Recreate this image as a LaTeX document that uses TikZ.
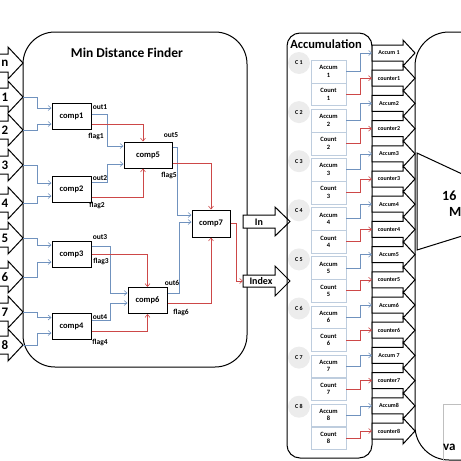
\documentclass[tikz,border=0pt]{standalone}
\usepackage{fontspec}
\setmainfont{Carlito}
\usepackage{tikz}
\usetikzlibrary{arrows.meta}
\definecolor{wireblue}{RGB}{112,146,190}
\definecolor{wirered}{RGB}{205,72,72}
\definecolor{cellline}{RGB}{190,205,222}
\tikzstyle{frame}      = [draw=black, line width=1pt, rounded corners=32pt]
\tikzstyle{comp}       = [rectangle, minimum width=39pt, minimum height=26pt, inner sep=0pt, text centered, draw=black, line width=1pt, fill=white, font=\bfseries\fontsize{8.5}{9}\selectfont]
\tikzstyle{port}       = [inner sep=0pt, font=\bfseries\fontsize{7.5}{8}\selectfont]
\tikzstyle{bigtext}    = [inner sep=0pt, font=\bfseries\fontsize{13}{13}\selectfont]
\tikzstyle{blockarrow} = [draw=black, line width=1pt, fill=white, line join=miter]
\tikzstyle{outwire}    = [draw=wireblue, line width=0.6pt, -{Straight Barb[length=3pt,width=5pt]}]
\tikzstyle{flagwire}   = [draw=wirered, line width=0.6pt, -{Straight Barb[length=3pt,width=5pt]}]
\tikzstyle{cell}       = [rectangle, minimum width=35pt, minimum height=22.5pt, inner sep=0pt, align=center, draw=cellline, fill=white, font=\bfseries\fontsize{6.5}{7.5}\selectfont]
\tikzstyle{badge}      = [circle, minimum size=22pt, inner sep=0pt, fill=gray!15, font=\bfseries\fontsize{6}{6}\selectfont]
\tikzstyle{tag}        = [inner sep=0pt, font=\bfseries\fontsize{6}{6}\selectfont]

\begin{document}
\begin{tikzpicture}[x=1pt, y=-1pt]
    \useasboundingbox (0,0) rectangle (461,461);
    \clip (0,0) rectangle (461,461);

    % min distance finder
    \draw [frame] (23,32) rectangle (247,367);
    \node (mdf) [bigtext, font=\bfseries\fontsize{13.5}{14}\selectfont] at (127,53) {Min Distance Finder};

    \foreach \y/\l/\n in {63/n/0, 97/1/1, 130/2/2, 165/3/3, 203/4/4, 238/5/5, 277/6/6, 312/7/7, 345/8/8} {
      \draw [blockarrow] (-10,\y-9) -- (8,\y-9) -- (8,\y-16) -- (23,\y) -- (8,\y+16) -- (8,\y+9) -- (-10,\y+9) -- cycle;
      \node (lbl\n) [bigtext, anchor=east] at (8.5,\y) {\l};
      \coordinate (t\n) at (23,\y);
    }

    \node (comp1) [comp] at (71.5,116)   {comp1};
    \node (comp2) [comp] at (71.5,189.5) {comp2};
    \node (comp3) [comp] at (71.5,254)   {comp3};
    \node (comp4) [comp] at (71.5,326.5) {comp4};
    \node (comp5) [comp, minimum width=48pt] at (148,155) {comp5};
    \node (comp6) [comp] at (147.5,300.5) {comp6};
    \node (comp7) [comp, minimum width=38pt, minimum height=27pt] at (211,223.5) {comp7};

    \node (out1)  [port] at (100,107) {out1};
    \node (flag1) [port] at (96,137)  {flag1};
    \node (out2)  [port] at (100,178) {out2};
    \node (flag2) [port] at (97,206)  {flag2};
    \node (out3)  [port] at (100,237) {out3};
    \node (flag3) [port] at (101,262) {flag3};
    \node (out4)  [port] at (100,317) {out4};
    \node (flag4) [port] at (100,343) {flag4};
    \node (out5)  [port] at (171,135) {out5};
    \node (flag5) [port] at (169,176) {flag5};
    \node (out6)  [port] at (172,283) {out6};
    \node (flag6) [port] at (181,313) {flag6};

    \draw [outwire] (t1) -- ++(14,0) |- ([yshift=8pt]comp1.west);
    \draw [outwire] (t2) -- ++(14,0) |- ([yshift=-8pt]comp1.west);
    \draw [outwire] (t3) -- ++(14,0) |- ([yshift=6.5pt]comp2.west);
    \draw [outwire] (t4) -- ++(14,0) |- ([yshift=-6.5pt]comp2.west);
    \draw [outwire] (t5) -- ++(14,0) |- ([yshift=9pt]comp3.west);
    \draw [outwire] (t6) -- ++(14,0) |- ([yshift=-8pt]comp3.west);
    \draw [outwire] (t7) -- ++(14,0) |- ([yshift=9pt]comp4.west);
    \draw [outwire] (t8) -- ++(14,0) |- ([yshift=-6.5pt]comp4.west);

    \draw [outwire]  ([yshift=2pt]comp1.east) -- ++(16,0) |- ([yshift=9pt]comp5.west);
    \draw [outwire]  ([yshift=7.5pt]comp2.east) -- ++(16,0) |- ([yshift=-9pt]comp5.west);
    \draw [flagwire] ([yshift=-8pt]comp1.east) -| ([xshift=-5pt]comp5.north);
    \draw [flagwire] ([yshift=-7.5pt]comp2.east) -| ([xshift=-5pt]comp5.south);
    \draw [outwire]  ([yshift=8pt]comp3.east) -- ++(19,0) |- ([yshift=7.5pt]comp6.west);
    \draw [outwire]  ([yshift=6.5pt]comp4.east) -- ++(19,0) |- ([yshift=-2.5pt]comp6.west);
    \draw [flagwire] (comp3.east) -| (comp6.north);
    \draw [flagwire] ([yshift=-4.5pt]comp4.east) -| (comp6.south);
    \draw [outwire]  ([yshift=8pt]comp5.east) -- ++(5,0) |- ([yshift=8.5pt]comp7.west);
    \draw [outwire]  ([yshift=7.5pt]comp6.east) -- ++(12,0) |- ([yshift=1.5pt]comp7.west);
    \draw [flagwire] ([yshift=-8pt]comp5.east) -| (comp7.north);
    \draw [flagwire] ([yshift=-2.5pt]comp6.east) -| (comp7.south);

    % in / index
    \draw [blockarrow] (243,215) -- (275,215) -- (275,207) -- (290,221.5) -- (275,236) -- (275,228) -- (243,228) -- cycle;
    \node (inport) [inner sep=0pt, font=\bfseries\fontsize{10}{10}\selectfont] at (259,222) {In};
    \draw [blockarrow] (243,275) -- (275,275) -- (275,266) -- (290,281) -- (275,296) -- (275,287) -- (243,287) -- cycle;
    \node (idxport) [inner sep=0pt, font=\bfseries\fontsize{10}{10}\selectfont] at (261,281) {Index};
    \coordinate (idx) at (243,281);
    \draw [flagwire] (comp7.east) -- ++(6,0) |- (idx);

    % accumulation
    \draw [line width=1pt, rounded corners=13pt] (287,33) rectangle (372,458);
    \node (acctitle) [inner sep=0pt, font=\bfseries\fontsize{12.5}{13}\selectfont] at (326,44) {Accumulation};

    \foreach \i in {1,...,8} {
      \pgfmathsetmacro\yy{60+49.1*(\i-1)}
      \node (c\i)   [badge] at (299,\yy+3) {C \i};
      \node (acc\i) [cell, anchor=north] at (328.5,\yy) {Accum\\\i};
      \node (cnt\i) [cell, anchor=north] at (acc\i.south) {Count\\\i};
    }

    \foreach \j/\t in {0/Accum 1, 1/counter1, 2/Accum2, 3/counter2, 4/Accum3, 5/counter3, 6/Accum4, 7/counter4,
                       8/Accum5, 9/counter5, 10/Accum6, 11/counter6, 12/Accum 7, 13/counter7, 14/Accum8, 15/counter8} {
      \pgfmathsetmacro\a{53+25.2*\j}
      \draw [blockarrow] (372,\a-8) -- (403,\a-8) -- (403,\a-13) -- (415,\a) -- (403,\a+13) -- (403,\a+8) -- (372,\a+8) -- cycle;
      \node (o\j) [tag] at (389,\a) {\t};
      \coordinate (p\j) at (372,\a);
    }

    \foreach \i in {1,...,8} {
      \pgfmathtruncatemacro\ja{2*\i-2}
      \pgfmathtruncatemacro\jc{2*\i-1}
      \draw [outwire]  (acc\i.east) -- ++(14,0) |- (p\ja);
      \draw [flagwire] (cnt\i.east) -- ++(14,0) |- (p\jc);
    }

    % right side
    \draw [frame, rounded corners=34pt] (415,32) rectangle (520,460);
    \draw [line width=1pt] (417,153) -- (475,180) -- (475,232) -- (417,250) -- cycle;
    \node (mux1) [anchor=west, inner sep=0pt, font=\bfseries\fontsize{14}{14}\selectfont] at (442,196) {16};
    \node (mux2) [anchor=west, inner sep=0pt, font=\bfseries\fontsize{14}{14}\selectfont] at (449,212) {M};
    \draw [gray!50] (443,404) rectangle (480,480);
    \node (val) [anchor=west, inner sep=0pt, font=\bfseries\fontsize{13}{13}\selectfont] at (443,447) {va};

\end{tikzpicture}
\end{document}
